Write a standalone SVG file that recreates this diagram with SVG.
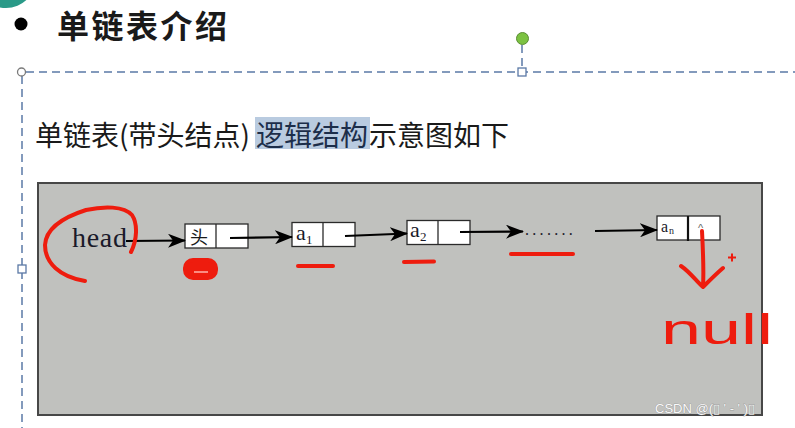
<svg xmlns="http://www.w3.org/2000/svg" width="795" height="428" viewBox="0 0 795 428">
<defs>
<style>
.cjk{font-family:"Noto Sans CJK SC","Noto Sans",sans-serif;fill:#1a1a1a}
.ser{font-family:"Liberation Serif","Times New Roman",serif;fill:#1a1a2a}
.dash{stroke:#5b79a6;stroke-width:1.5;stroke-dasharray:8 5;fill:none}
.nodebox{fill:#ffffff;stroke:#2a2a2a;stroke-width:1.3}
.div{stroke:#2a2a2a;stroke-width:1.3}
.conn{stroke:#000;stroke-width:2.2;fill:none}
.red{stroke:#ee1c0e;stroke-width:4;fill:none;stroke-linecap:round;stroke-linejoin:round}
</style>
<marker id="ah" viewBox="0 0 18 14" refX="17" refY="7" markerWidth="18" markerHeight="14" markerUnits="userSpaceOnUse" orient="auto">
<path d="M0,0 L18,7 L0,14 L5,7 Z" fill="#000"/>
</marker>
</defs>
<rect width="795" height="428" fill="#ffffff"/>
<circle cx="6" cy="-22" r="30" fill="#2a9a88"/>
<circle cx="21" cy="24" r="6.5" fill="#000"/>
<text x="57" y="37.5" class="cjk" font-size="32" font-weight="bold" fill="#000" textLength="170">单链表介绍</text>

<!-- selection frame -->
<line x1="26" y1="72" x2="795" y2="72" class="dash"/>
<line x1="22" y1="76" x2="22" y2="428" class="dash"/>
<line x1="522" y1="45" x2="522" y2="68" class="dash"/>
<circle cx="21.5" cy="72" r="4" fill="#fff" stroke="#7a7a7a" stroke-width="1.3"/>
<rect x="518" y="68" width="8" height="8" fill="#fff" stroke="#5b79a6" stroke-width="1.3"/>
<rect x="18" y="265" width="8" height="8" fill="#fff" stroke="#5b79a6" stroke-width="1.3"/>
<circle cx="522.5" cy="38.5" r="6" fill="#7cc242" stroke="#5a8c34" stroke-width="1"/>

<rect x="255" y="117" width="115" height="32" fill="#b9cbe0"/>
<text y="146" class="cjk" font-size="28"><tspan x="35">单链表(带头结点) </tspan><tspan x="256" fill="#1c2e4a">逻辑结构</tspan><tspan x="369">示意图如下</tspan></text>

<rect x="38" y="183" width="724" height="232" fill="#c0c1be" stroke="#474747" stroke-width="2"/>

<g id="head">
<text x="72" y="247" class="ser" font-size="28" textLength="55">head</text>
</g>
<g id="node-head">
<rect x="185" y="224" width="63" height="24" class="nodebox"/>
<line x1="216" y1="224" x2="216" y2="248" class="div"/>
<text x="190" y="244" class="cjk" font-size="18" fill="#333">头</text>
</g>
<g id="node-a1">
<rect x="292" y="222.5" width="63" height="24" class="nodebox"/>
<line x1="323" y1="222.5" x2="323" y2="246.5" class="div"/>
<text x="296" y="240" class="ser" font-size="22">a</text>
<text x="306" y="244" class="ser" font-size="13">1</text>
</g>
<g id="node-a2">
<rect x="407" y="220.5" width="63" height="24" class="nodebox"/>
<line x1="438" y1="220.5" x2="438" y2="244.5" class="div"/>
<text x="410" y="237" class="ser" font-size="22">a</text>
<text x="420" y="241" class="ser" font-size="13">2</text>
</g>
<g id="dots">
<text x="525" y="235" class="ser" font-size="16" letter-spacing="3.3">.......</text>
</g>
<g id="node-an">
<rect x="657" y="216" width="63" height="24" class="nodebox"/>
<line x1="688" y1="216" x2="688" y2="241" stroke="#111" stroke-width="2.2"/>
<text x="661" y="232" class="ser" font-size="16">a</text>
<text x="669" y="234" class="ser" font-size="10">n</text>
<text x="698" y="232" font-family="Liberation Sans, sans-serif" font-size="11" fill="#666">^</text>
</g>

<g id="connectors">
<line x1="126" y1="241" x2="185" y2="240.5" class="conn" marker-end="url(#ah)"/>
<line x1="230" y1="238" x2="292" y2="237" class="conn" marker-end="url(#ah)"/>
<line x1="345" y1="236" x2="407" y2="233.5" class="conn" marker-end="url(#ah)"/>
<line x1="460" y1="232" x2="523" y2="231.5" class="conn" marker-end="url(#ah)"/>
<line x1="595" y1="231" x2="657" y2="230" class="conn" marker-end="url(#ah)"/>
</g>

<g id="annotations">
<path class="red" d="M131,252 C137,240 138,224 132,215 C124,206 104,206 86,210 C64,217 46,228 45,245 C45,263 60,277 85,281"/>
<rect x="185" y="260" width="31" height="18" rx="8" fill="#ee1c0e" stroke="#ee1c0e" stroke-width="4"/>
<line x1="194" y1="272" x2="208" y2="272" stroke="#ffb0a8" stroke-width="1.5"/>
<line x1="298" y1="266" x2="333" y2="266" class="red"/>
<line x1="404" y1="262" x2="434" y2="261.5" class="red"/>
<line x1="511" y1="254" x2="573" y2="254" class="red"/>
<path class="red" d="M702,231 C703,250 704,270 703,287 M681,266 C690,272 697,282 703,287 C709,281 716,274 723,268"/>
<path stroke="#ee1c0e" stroke-width="2" d="M728,257.5 H736 M732,253.5 V261.5"/>
<text x="661" y="344" font-family="Liberation Sans, sans-serif" font-size="42" fill="#ee1c0e" textLength="112" lengthAdjust="spacingAndGlyphs">null</text>
</g>

<text x="655" y="413" font-family="Liberation Sans, Arial, sans-serif" font-size="13" fill="#fafafa" stroke="#8a8a8a" stroke-width="0.6" paint-order="stroke">CSDN @(▯ ' - ' )▯</text>
</svg>
